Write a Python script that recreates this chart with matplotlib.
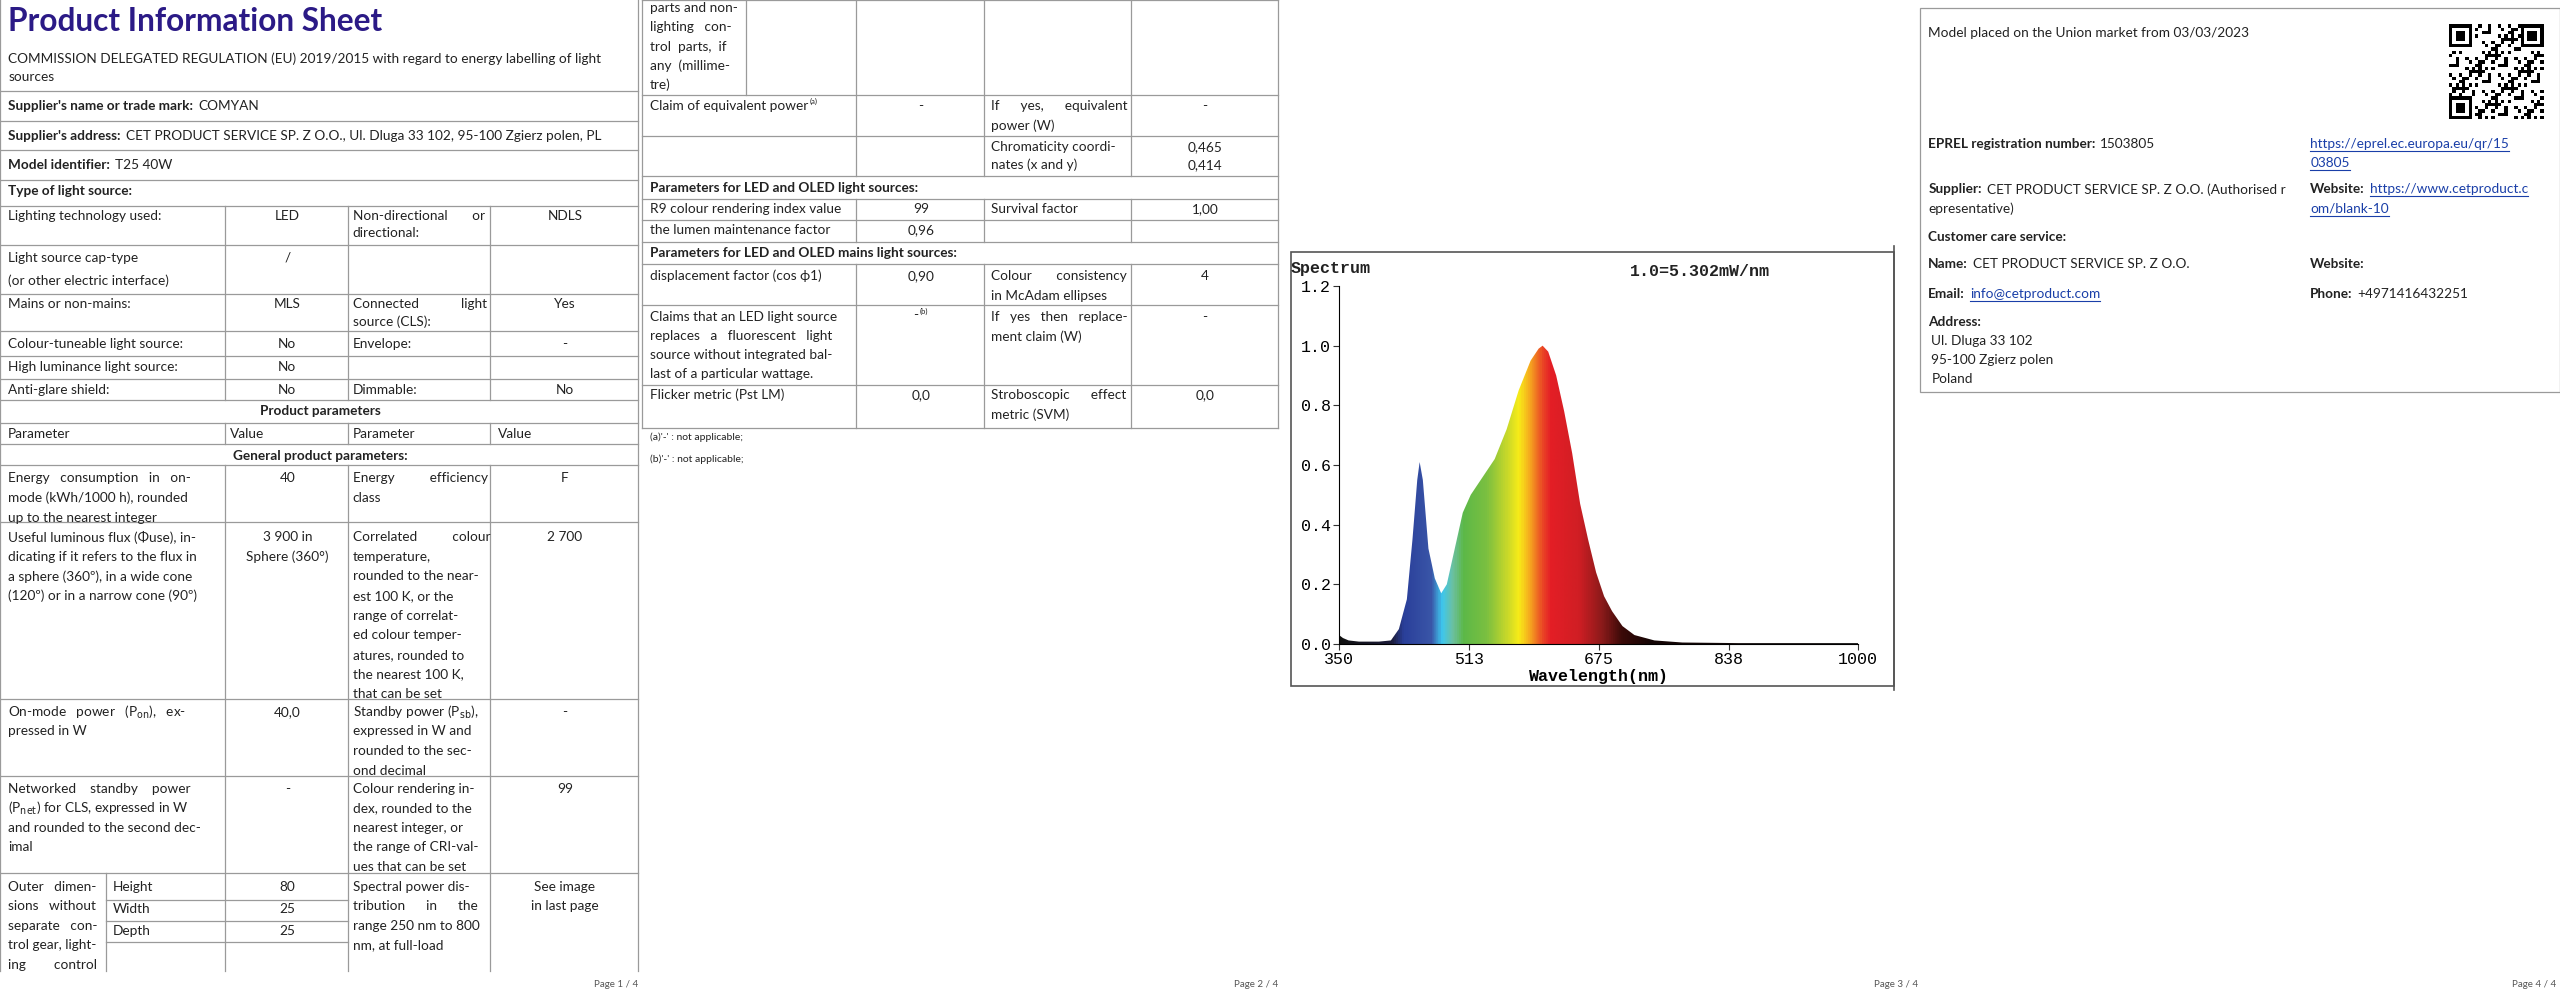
import matplotlib
matplotlib.use("Agg")
import matplotlib.pyplot as plt
import numpy as np
from matplotlib.colors import LinearSegmentedColormap
from matplotlib.patches import Rectangle, PathPatch

# ---------------- data ----------------
wavelength = [350, 355, 362, 375, 400, 415, 425, 435, 442, 448, 451, 455, 462, 470, 478, 485, 495, 505, 515,
              530, 545, 560, 575, 590, 600, 605, 612, 622, 632, 642, 652, 662, 672, 682, 692, 705, 720, 745,
              780, 850, 1000]
intensity = [0.03, 0.02, 0.012, 0.008, 0.008, 0.012, 0.05, 0.15, 0.35, 0.55, 0.61, 0.55, 0.32, 0.22, 0.17,
             0.2, 0.32, 0.44, 0.5, 0.56, 0.62, 0.72, 0.85, 0.95, 0.99, 1.0, 0.98, 0.9, 0.78, 0.64, 0.47, 0.35,
             0.24, 0.16, 0.11, 0.06, 0.03, 0.012, 0.005, 0.003, 0.003]
x_ticks = [350, 513, 675, 838, 1000]
y_ticks = [0.0, 0.2, 0.4, 0.6, 0.8, 1.0, 1.2]

S = 2560 / 1568.0
fig = plt.figure(figsize=(25.6, 10.01), dpi=100)
ax = fig.add_axes([0, 0, 1, 1])
ax.set_xlim(0, 2560); ax.set_ylim(1001, 0); ax.axis("off")

FONT = "Lato"
FS = 9.8
LC = "#9a9a9a"
rend = fig.canvas.get_renderer()

def T(x, y, s, ha="left", bold=False, fs=FS, color="#222222", **kw):
    return ax.text(x * S, y * S, s, ha=ha, va="center", fontsize=fs, family=FONT,
                   fontweight="bold" if bold else "normal", color=color, **kw)

def TL(x, y, lines, step=12, **kw):
    for i, l in enumerate(lines):
        T(x, y + i * step, l, **kw)

def BT(x, y, b, rest, color="#222222"):
    t = T(x, y, b, bold=True)
    bb = t.get_window_extent(rend)
    return T(bb.x1 / S + 3, y, rest, color=color)

def H(x1, x2, y, lw=0.9):
    ax.plot([x1 * S, x2 * S], [y * S, y * S], color=LC, lw=lw)

def V(x, y1, y2, lw=0.9):
    ax.plot([x * S, x * S], [y1 * S, y2 * S], color=LC, lw=lw)

def link(x, y, s):
    t = T(x, y, s, color="#1a3fa8")
    bb = t.get_window_extent(rend)
    yy = 1001 - bb.y0 + 1
    ax.plot([bb.x0, bb.x1], [yy, yy], color="#1a3fa8", lw=0.8)

# ---------------- page 1 ----------------
T(5, 13, "Product Information Sheet", bold=True, fs=22.8, color="#2b1a86")
TL(5, 36, ["COMMISSION DELEGATED REGULATION (EU) 2019/2015 with regard to energy labelling of light", "sources"], step=11)
BT(5, 65, "Supplier's name or trade mark:", "COMYAN")
BT(5, 83, "Supplier's address:", "CET PRODUCT SERVICE SP. Z O.O., Ul. Dluga 33 102, 95-100 Zgierz polen, PL")
BT(5, 101, "Model identifier:", "T25 40W")
T(5, 117, "Type of light source:", bold=True)
for y in [56, 74, 92, 110, 126, 150, 180, 203, 218, 232, 245, 259, 272, 285, 320, 428, 475, 535]:
    H(0, 391, y)
V(0, 0, 595); V(391, 0, 595)
for (y1, y2) in [(126, 245), (259, 272), (285, 595)]:
    for x in [138, 213, 300]:
        V(x, y1, y2)
V(65, 535, 595); H(65, 213, 551); H(65, 213, 564); H(65, 213, 577)
c1, c3 = 176, 346
T(5, 132, "Lighting technology used:"); T(c1, 132, "LED", ha="center")
TL(216, 132, ["Non-directional       or", "directional:"], step=11); T(c3, 132, "NDLS", ha="center")
TL(5, 158, ["Light source cap-type", "(or other electric interface)"], step=14); T(c1, 158, "/", ha="center")
T(5, 186, "Mains or non-mains:"); T(c1, 186, "MLS", ha="center")
TL(216, 186, ["Connected            light", "source (CLS):"], step=11); T(c3, 186, "Yes", ha="center")
T(5, 211, "Colour-tuneable light source:"); T(c1, 211, "No", ha="center"); T(216, 211, "Envelope:"); T(c3, 211, "-", ha="center")
T(5, 225, "High luminance light source:"); T(c1, 225, "No", ha="center")
T(5, 239, "Anti-glare shield:"); T(c1, 239, "No", ha="center"); T(216, 239, "Dimmable:"); T(c3, 239, "No", ha="center")
T(196, 252, "Product parameters", ha="center", bold=True)
T(5, 266, "Parameter"); T(141, 266, "Value"); T(216, 266, "Parameter"); T(305, 266, "Value")
T(196, 279, "General product parameters:", ha="center", bold=True)
TL(5, 293, ["Energy   consumption   in   on-", "mode (kWh/1000 h), rounded", "up to the nearest integer"])
T(c1, 293, "40", ha="center"); TL(216, 293, ["Energy          efficiency", "class"]); T(c3, 293, "F", ha="center")
TL(5, 329, ["Useful luminous flux (\u03a6use), in-", "dicating if it refers to the flux in",
            "a sphere (360\u00ba), in a wide cone", "(120\u00ba) or in a narrow cone (90\u00ba)"])
TL(c1, 329, ["3 900 in", "Sphere (360\u00b0)"], ha="center")
TL(216, 329, ["Correlated          colour", "temperature,", "rounded to the near-", "est 100 K, or the",
              "range of correlat-", "ed colour temper-", "atures, rounded to", "the nearest 100 K,",
              "that can be set"])
T(c3, 329, "2 700", ha="center")
TL(5, 436, [r"On-mode   power   (P$_{\rm on}$),   ex-", "pressed in W"]); T(c1, 436, "40,0", ha="center")
TL(216, 436, [r"Standby power (P$_{\rm sb}$),", "expressed in W and", "rounded to the sec-", "ond decimal"])
T(c3, 436, "-", ha="center")
TL(5, 483, ["Networked    standby    power", r"(P$_{\rm net}$) for CLS, expressed in W", "and rounded to the second dec-", "imal"])
T(c1, 483, "-", ha="center")
TL(216, 483, ["Colour rendering in-", "dex, rounded to the", "nearest integer, or", "the range of CRI-val-", "ues that can be set"])
T(c3, 483, "99", ha="center")
TL(5, 543, ["Outer   dimen-", "sions   without", "separate   con-", "trol gear, light-", "ing        control"])
T(69, 543, "Height"); T(c1, 543, "80", ha="center")
T(69, 557, "Width"); T(c1, 557, "25", ha="center")
T(69, 570, "Depth"); T(c1, 570, "25", ha="center")
TL(216, 543, ["Spectral power dis-", "tribution      in      the", "range 250 nm to 800", "nm, at full-load"])
TL(c3, 543, ["See image", "in last page"], ha="center")
T(391, 603, "Page 1 / 4", ha="right", fs=7, color="#555555")

# ---------------- page 2 ----------------
V(393, 0, 262); V(783, 0, 262)
for x in [524, 603, 693]:
    V(x, 0, 108); V(x, 122, 148); V(x, 162, 262)
V(457, 0, 58)
for y in [0, 58, 83, 108, 122, 135, 148, 162, 187, 236, 262]:
    H(393, 783, y)
TL(398, 5, ["parts and non-", "lighting   con-", "trol  parts,  if", "any  (millime-", "tre)"], step=11.8)
t = T(398, 65, "Claim of equivalent power")
T(t.get_window_extent(rend).x1 / S + 1, 62, "(a)", fs=5.5)
T(564, 65, "-", ha="center"); TL(607, 65, ["If      yes,      equivalent", "power (W)"]); T(738, 65, "-", ha="center")
TL(607, 90, ["Chromaticity coordi-", "nates (x and y)"], step=11); TL(738, 90, ["0,465", "0,414"], ha="center", step=11)
T(398, 115, "Parameters for LED and OLED light sources:", bold=True)
T(398, 128, "R9 colour rendering index value"); T(564, 128, "99", ha="center"); T(607, 128, "Survival factor"); T(738, 128, "1,00", ha="center")
T(398, 141, "the lumen maintenance factor"); T(564, 141, "0,96", ha="center")
T(398, 155, "Parameters for LED and OLED mains light sources:", bold=True)
T(398, 169, "displacement factor (cos \u03d51)"); T(564, 169, "0,90", ha="center")
TL(607, 169, ["Colour       consistency", "in McAdam ellipses"]); T(738, 169, "4", ha="center")
TL(398, 194, ["Claims that an LED light source", "replaces   a   fluorescent   light", "source without integrated bal-", "last of a particular wattage."], step=11.7)
T(561, 193, "-", ha="center"); T(563, 191, "(b)", fs=5.5)
TL(607, 194, ["If   yes   then   replace-", "ment claim (W)"]); T(738, 194, "-", ha="center")
T(398, 242, "Flicker metric (Pst LM)"); T(564, 242, "0,0", ha="center")
TL(607, 242, ["Stroboscopic      effect", "metric (SVM)"]); T(738, 242, "0,0", ha="center")
T(398, 268, "(a)'-' : not applicable;", fs=7.5); T(398, 281, "(b)'-' : not applicable;", fs=7.5)
T(783, 603, "Page 2 / 4", ha="right", fs=7, color="#555555")

# ---------------- page 3: spectrum ----------------
ax.add_patch(Rectangle((1291, 252), 603, 434, fill=False, ec="#555555", lw=1.2))
ax.plot([1894, 1894], [246, 690], color="#555555", lw=1.2)
cax = fig.add_axes([1339 / 2560, 1 - 644 / 1001, (1858 - 1339) / 2560, (644 - 286) / 1001])
wl = np.array(wavelength, float); it = np.array(intensity, float)
stops = [(350, "#111111"), (415, "#1c1c3a"), (430, "#2a3f9a"), (465, "#3a56a8"), (478, "#3ec8ef"),
         (492, "#6cc0a0"), (505, "#5cb848"), (535, "#7cc040"), (560, "#c8d82a"), (575, "#f8ec18"),
         (590, "#f5a020"), (605, "#ea4426"), (615, "#e41e26"), (650, "#d01e24"), (680, "#8a1a1a"),
         (705, "#3a0a08"), (740, "#150505"), (1000, "#111111")]
cmap = LinearSegmentedColormap.from_list("sp", [((w - 350) / 650, c) for w, c in stops])
poly = cax.fill_between(wl, 0, it, color="none", lw=0)
grad = np.linspace(0, 1, 800).reshape(1, -1)
im = cax.imshow(grad, extent=[350, 1000, 0, 1.2], aspect="auto", cmap=cmap, origin="lower", zorder=2)
pp = PathPatch(poly.get_paths()[0], transform=cax.transData, fc="none", ec="none")
cax.add_patch(pp)
im.set_clip_path(pp)
cax.set_xlim(350, 1000); cax.set_ylim(0, 1.2)
cax.set_xticks(x_ticks); cax.set_yticks(y_ticks)
cax.set_xticklabels([str(v) for v in x_ticks], family="Liberation Mono", fontsize=12)
cax.set_yticklabels(["%.1f" % v for v in y_ticks], family="Liberation Mono", fontsize=12)
for sp in ["top", "right"]:
    cax.spines[sp].set_visible(False)
cax.tick_params(length=4, color="#333333", pad=2)
cax.set_xlabel("Wavelength(nm)", family="Liberation Mono", fontsize=12, fontweight="bold", labelpad=1)
ax.text(1291, 268, "Spectrum", family="Liberation Mono", fontsize=12, fontweight="bold", va="center", color="#222222")
ax.text(1700, 272, "1.0=5.302mW/nm", family="Liberation Mono", fontsize=12, fontweight="bold", va="center", ha="center", color="#222222")
T(1175, 603, "Page 3 / 4", ha="right", fs=7, color="#555555")

# ---------------- page 4 ----------------
ax.add_patch(Rectangle((1176 * S, 5 * S), 392 * S, 235 * S, fill=False, ec=LC, lw=0.9))
T(1181, 20, "Model placed on the Union market from 03/03/2023")
qx, qy, qs = 1500 * S, 15 * S, 58 * S
n = 29; cs = qs / n
for i in range(n):
    for j in range(n):
        if ((i * 7 + j * 13 + (i * j) % 5) % 3 == 0):
            ax.add_patch(Rectangle((qx + j * cs, qy + i * cs), cs, cs, color="black", lw=0))
for (fi, fj) in [(0, 0), (0, n - 7), (n - 7, 0)]:
    ax.add_patch(Rectangle((qx + fj * cs, qy + fi * cs), 8 * cs, 8 * cs, color="white", lw=0))
    ax.add_patch(Rectangle((qx + fj * cs, qy + fi * cs), 7 * cs, 7 * cs, color="black", lw=0))
    ax.add_patch(Rectangle((qx + (fj + 1) * cs, qy + (fi + 1) * cs), 5 * cs, 5 * cs, color="white", lw=0))
    ax.add_patch(Rectangle((qx + (fj + 2) * cs, qy + (fi + 2) * cs), 3 * cs, 3 * cs, color="black", lw=0))
BT(1181, 88, "EPREL registration number:", "1503805")
link(1415, 88, "https://eprel.ec.europa.eu/qr/15"); link(1415, 100, "03805")
BT(1181, 116, "Supplier:", "CET PRODUCT SERVICE SP. Z O.O. (Authorised r")
T(1181, 128, "epresentative)")
t = T(1415, 116, "Website:", bold=True)
link(t.get_window_extent(rend).x1 / S + 3, 116, "https://www.cetproduct.c")
link(1415, 128, "om/blank-10")
T(1181, 145, "Customer care service:", bold=True)
BT(1181, 162, "Name:", "CET PRODUCT SERVICE SP. Z O.O.")
T(1415, 162, "Website:", bold=True)
t = T(1181, 180, "Email:", bold=True)
link(t.get_window_extent(rend).x1 / S + 3, 180, "info@cetproduct.com")
BT(1415, 180, "Phone:", "+4971416432251")
T(1181, 197, "Address:", bold=True)
TL(1183, 209, ["Ul. Dluga 33 102", "95-100 Zgierz polen", "Poland"], step=11.7)
T(1566, 603, "Page 4 / 4", ha="right", fs=7, color="#555555")

fig.savefig("out.png", dpi=100)
